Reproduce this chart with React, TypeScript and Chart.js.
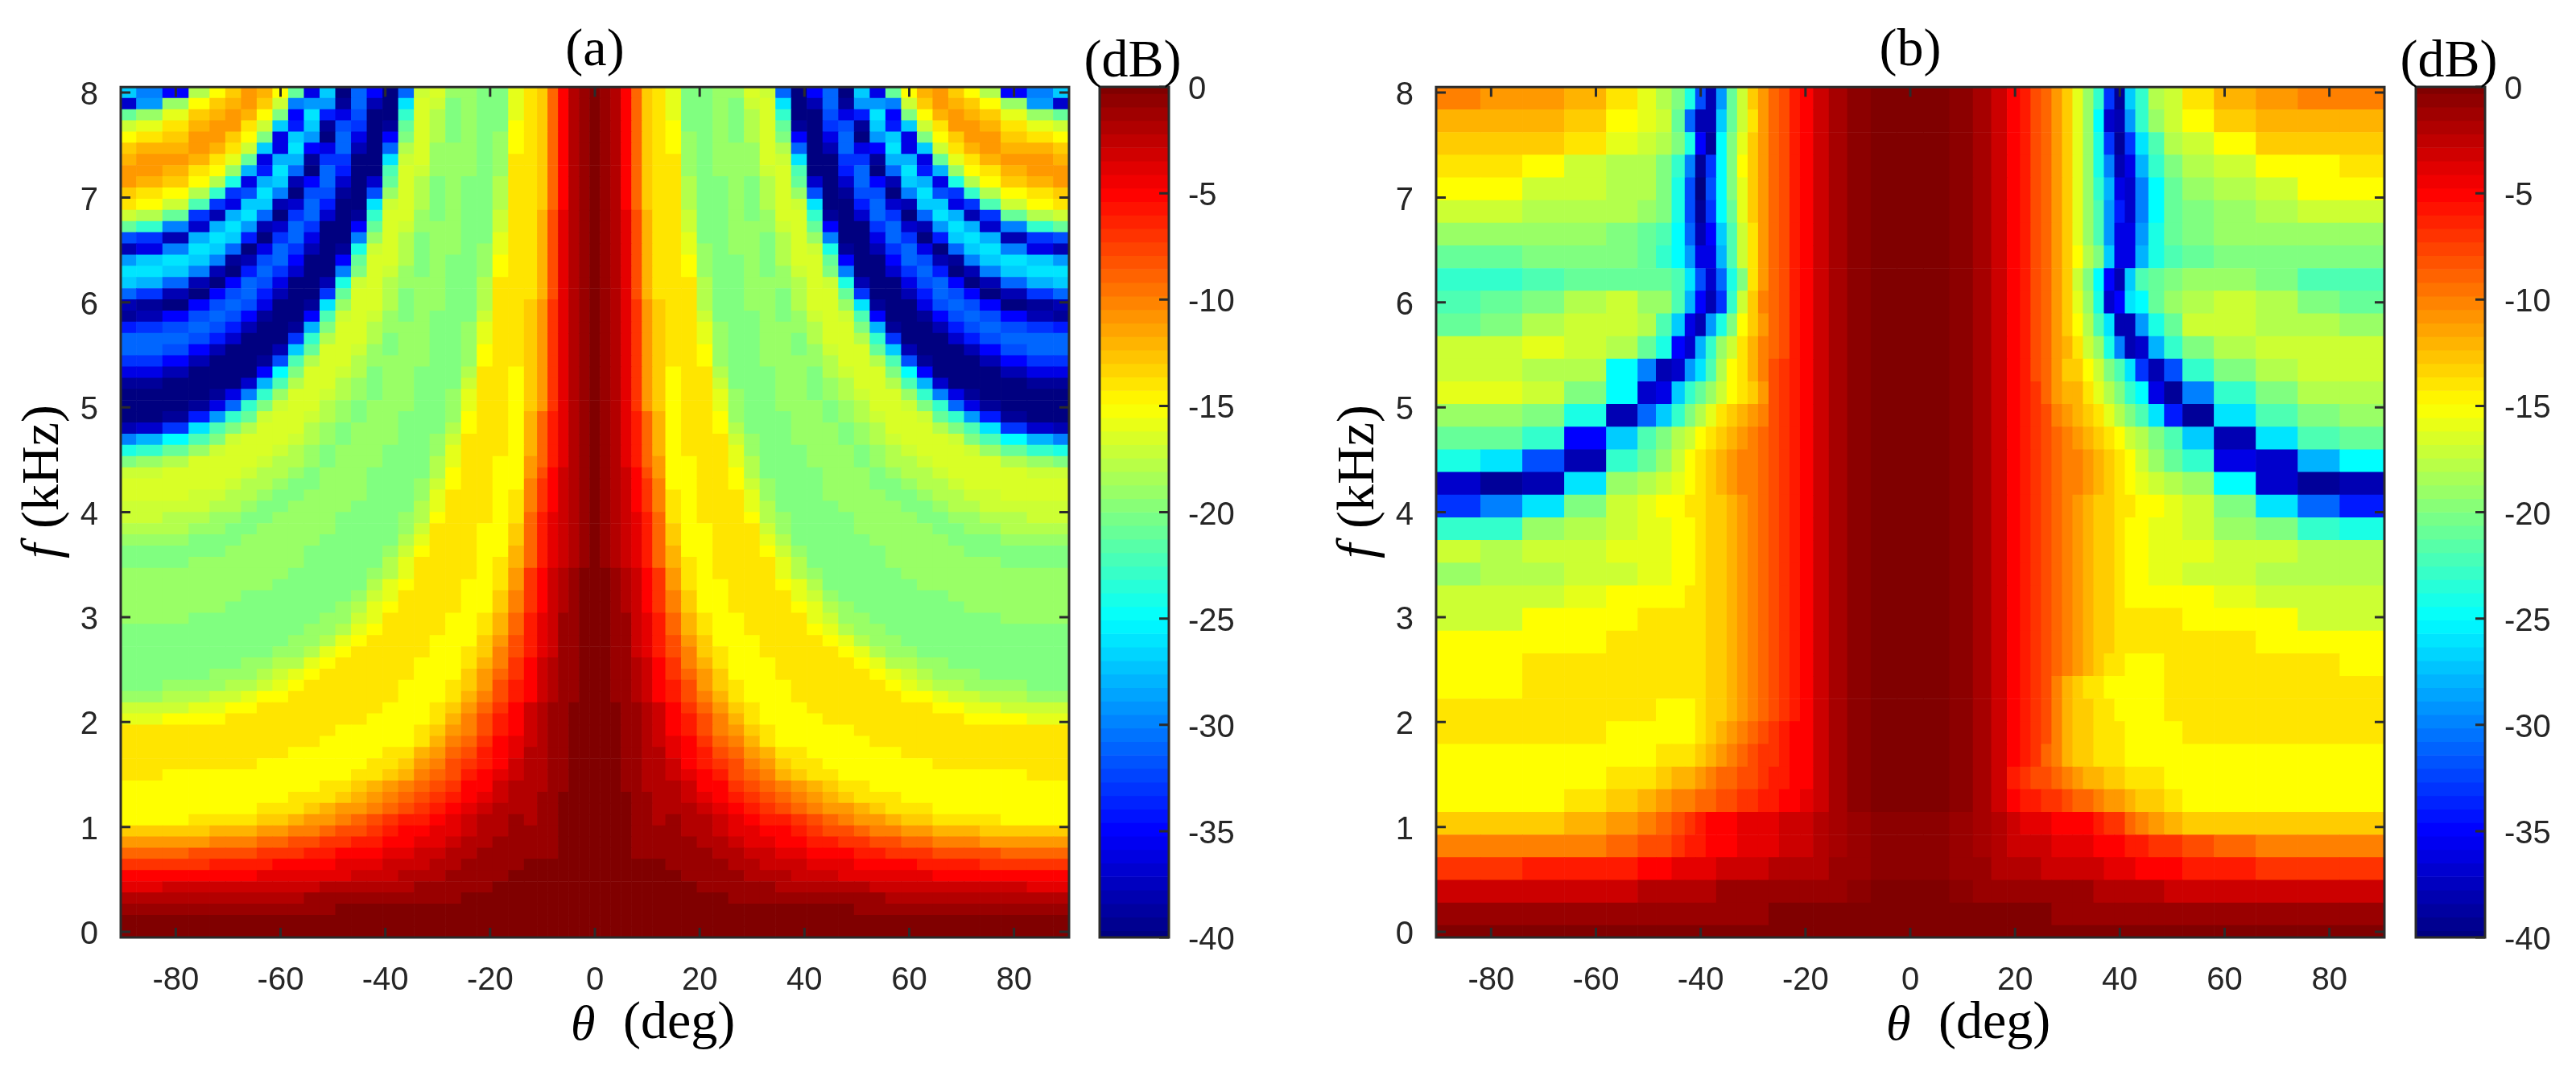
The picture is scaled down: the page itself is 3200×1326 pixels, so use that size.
import { useEffect, useRef } from "react"
import { Chart, registerables } from "chart.js"

Chart.register(...registerables)

// panel (a) is mirror symmetric in the picture, so only 0..90 deg is kept
const thetaHalfA = [0,2,4,6,8,10,12,15,18,21,24,27,30,33,36,39,42,45,48,51,54,57,60,63,66,69,72,75,80,85,90]

// dB, first row is 8 kHz, last row is 0 kHz
const rowsHalfA = [
[0,-1,-2,-5,-9,-13,-14,-16,-20,-20,-19,-19,-16.5,-17,-31,-40,-35,-31,-40,-27,-36,-21,-15,-12,-11,-13,-15,-18,-35,-30,-27],
[0,-1,-2,-5,-9,-13,-14,-16,-20,-20,-19,-20,-17,-16.5,-26,-40,-38,-31,-39,-29,-29,-30,-17,-13,-11,-12,-13,-15,-19,-29,-37],
[0,-1,-2,-5,-9,-13,-14,-16,-20,-20,-19,-20,-18,-16.5,-23,-40,-40,-32,-36,-34,-26,-35,-20,-15,-12,-11,-12,-13,-16,-19,-21],
[0,-1,-2,-5,-9,-13,-14,-15,-20,-20,-19,-20,-18,-16.5,-21,-39,-40,-33,-32,-39,-27,-34,-27,-17,-14,-11,-11,-12,-14,-16,-17],
[0,-1,-2,-5,-9,-13,-14,-15,-19,-20,-19,-20,-18,-16.5,-20,-35,-40,-36,-31,-40,-29,-27,-36,-20,-15,-13,-11,-11,-13,-14,-15],
[0,-1,-2,-5,-9,-13,-14,-15,-19,-20,-19,-19,-19,-16.5,-18,-31,-40,-38,-31,-36,-35,-26,-36,-27,-17,-14,-12,-11,-12,-12,-13],
[0,-1,-2,-5,-9,-13,-14,-14,-19,-20,-19,-19,-19,-16.5,-17,-26,-40,-40,-33,-33,-39,-28,-28,-36,-21,-16,-14,-12,-11,-11,-12],
[0,-1,-2,-5,-9,-13,-14,-14,-19,-20,-19,-19,-19,-17,-16.5,-22,-40,-40,-34,-31,-40,-31,-26,-34,-28,-19,-15,-14,-12,-11,-11],
[0,-1,-2,-5,-9,-13,-14,-14,-18,-20,-20,-19,-20,-18,-16.5,-21,-37,-40,-37,-31,-35,-38,-27,-28,-36,-24,-18,-15,-13,-12,-11],
[0,-1,-2,-5,-9,-13,-14,-14,-18,-20,-20,-19,-20,-18,-16.5,-19,-32,-40,-39,-32,-32,-40,-30,-26,-32,-33,-23,-18,-15,-14,-13],
[0,-1,-2,-5,-9,-13,-14,-14,-18,-20,-20,-19,-20,-18,-16.5,-17,-26,-40,-40,-34,-31,-37,-38,-27,-27,-36,-33,-22,-17,-15,-14],
[0,-1,-2,-4,-8,-12,-14,-14,-17,-20,-20,-19,-20,-19,-16.5,-16.5,-23,-39,-40,-37,-31,-33,-40,-31,-26,-28,-38,-33,-21,-18,-17],
[0,-1,-2,-4,-8,-12,-14,-14,-17,-20,-20,-19,-19,-19,-17,-16.5,-21,-35,-40,-40,-33,-31,-37,-38,-29,-26,-28,-37,-30,-23,-21],
[0,-1,-2,-4,-8,-12,-14,-14,-16,-20,-20,-19,-19,-20,-18,-16.5,-19,-30,-40,-40,-36,-31,-33,-40,-34,-27,-26,-28,-38,-33,-32],
[0,-1,-2,-4,-8,-12,-14,-14,-16,-19,-20,-19,-19,-20,-18,-16.5,-17,-24,-39,-40,-38,-33,-31,-36,-40,-31,-27,-26,-30,-36,-38],
[0,-1,-2,-4,-8,-12,-14,-14,-15,-19,-20,-20,-19,-20,-18,-16.5,-16.5,-21,-35,-40,-40,-35,-31,-32,-38,-39,-30,-27,-26,-27,-29],
[0,-1,-2,-4,-8,-12,-14,-14,-15,-19,-20,-20,-19,-20,-19,-17,-16.5,-20,-30,-40,-40,-37,-33,-31,-34,-40,-38,-30,-27,-26,-26],
[0,-1,-2,-4,-8,-12,-14,-14,-14,-18,-20,-20,-19,-19,-19,-18,-16.5,-17,-24,-38,-40,-40,-36,-32,-31,-35,-40,-38,-31,-28,-27],
[0,-1,-2,-4,-8,-12,-14,-14,-14,-18,-20,-20,-19,-19,-20,-18,-16.5,-16.5,-21,-33,-40,-40,-38,-34,-31,-32,-35,-40,-38,-33,-31],
[0,-1,-2,-4,-7,-11,-13,-14,-14,-18,-20,-20,-19,-19,-20,-18,-16.5,-16.5,-19,-26,-39,-40,-40,-36,-32,-31,-32,-35,-40,-39,-38],
[0,-1,-2,-4,-7,-11,-13,-14,-14,-17,-20,-20,-20,-19,-20,-19,-17,-16.5,-17,-22,-35,-40,-40,-39,-35,-32,-31,-32,-35,-38,-39],
[0,-1,-2,-4,-7,-11,-13,-14,-14,-16,-19,-20,-20,-19,-19,-19,-18,-16.5,-16.5,-20,-28,-39,-40,-40,-38,-34,-32,-31,-32,-33,-34],
[0,-1,-2,-4,-7,-11,-13,-14,-14,-16,-19,-20,-20,-19,-19,-20,-18,-16.5,-16.5,-18,-23,-33,-40,-40,-40,-37,-34,-32,-31,-31,-31],
[0,-1,-2,-4,-7,-11,-13,-14,-14,-15,-19,-20,-20,-19,-19,-20,-19,-17,-16.5,-16.5,-21,-27,-38,-40,-40,-40,-38,-35,-32,-31,-31],
[0,-1,-2,-4,-7,-11,-13,-14,-14,-15,-19,-20,-20,-19,-19,-19,-19,-18,-16.5,-16.5,-18,-22,-32,-39,-40,-40,-40,-38,-35,-33,-33],
[0,-1,-2,-4,-7,-11,-13,-15,-14,-14,-18,-20,-20,-20,-19,-19,-20,-18,-17,-16.5,-16.5,-20,-25,-35,-40,-40,-40,-40,-38,-36,-36],
[0,-1,-2,-4,-7,-11,-13,-15,-14,-14,-17,-20,-20,-20,-19,-19,-20,-19,-18,-16.5,-16.5,-18,-22,-28,-37,-40,-40,-40,-40,-39,-39],
[0,-1,-2,-4,-7,-11,-13,-15,-14,-14,-16,-19,-20,-20,-19,-19,-20,-19,-18,-17,-16.5,-16.5,-19,-23,-30,-36,-39,-40,-40,-40,-40],
[0,-1,-2,-4,-7,-11,-13,-15,-14,-14,-16,-19,-20,-20,-19,-19,-19,-20,-19,-18,-16.5,-16.5,-17,-20,-23,-31,-36,-39,-40,-40,-40],
[0,-1,-2,-4,-6,-9,-12,-15,-14,-14,-15,-19,-20,-20,-20,-19,-19,-20,-19,-18,-17,-16.5,-16.5,-17,-21,-23,-29,-34,-39,-40,-40],
[0,-1,-2,-4,-6,-9,-12,-15,-14,-14,-15,-18,-20,-20,-20,-19,-19,-19,-20,-19,-18,-16.5,-16.5,-16.5,-18,-20,-22,-26,-33,-37,-38],
[0,-1,-2,-4,-6,-9,-12,-15,-14,-14,-14,-17,-19,-20,-20,-19,-19,-19,-20,-19,-18,-17,-16.5,-16.5,-16.5,-17,-20,-22,-25,-28,-30],
[0,-1,-2,-4,-6,-9,-12,-15,-14,-14,-14,-16,-19,-20,-20,-20,-19,-19,-19,-20,-19,-18,-17,-16.5,-16.5,-16.5,-17,-19,-21,-23,-24],
[0,-1,-2,-4,-6,-9,-11,-15,-15,-14,-14,-16,-18,-20,-20,-20,-19,-19,-19,-20,-19,-18,-18,-17,-16.5,-16.5,-16.5,-16.5,-18,-19,-20],
[0,-1,-2,-3,-5,-8,-11,-15,-15,-14,-14,-15,-18,-20,-20,-20,-20,-19,-19,-19,-20,-19,-18,-18,-17,-16.5,-16.5,-16.5,-16.5,-17,-17],
[0,-1,-2,-3,-5,-7,-10,-15,-15,-14,-14,-15,-17,-19,-20,-20,-20,-19,-19,-19,-20,-20,-19,-18,-18,-17,-16.5,-16.5,-16.5,-16.5,-16.5],
[0,-1,-2,-3,-5,-7,-10,-14,-15,-14,-14,-14,-16,-19,-20,-20,-20,-19,-19,-19,-19,-20,-20,-19,-18,-18,-17,-17,-16.5,-16.5,-16.5],
[0,-1,-2,-3,-5,-7,-10,-14,-15,-14,-14,-14,-16,-18,-20,-20,-20,-20,-19,-19,-19,-19,-20,-20,-19,-18,-18,-17,-17,-17,-17],
[0,-1,-2,-3,-4,-6,-9,-14,-15,-14,-14,-14,-15,-18,-19,-20,-20,-20,-20,-19,-19,-19,-19,-20,-20,-19,-19,-18,-18,-17,-17],
[0,-1,-2,-3,-4,-6,-9,-13,-15,-15,-14,-14,-14,-17,-19,-20,-20,-20,-20,-19,-19,-19,-19,-19,-20,-20,-19,-19,-18,-18,-18],
[0,-1,-2,-3,-4,-6,-9,-13,-15,-15,-14,-14,-14,-16,-18,-20,-20,-20,-20,-20,-19,-19,-19,-19,-19,-20,-20,-20,-19,-19,-19],
[0,-1,-2,-3,-4,-6,-9,-12,-15,-15,-14,-14,-14,-15,-17,-19,-20,-20,-20,-20,-20,-19,-19,-19,-19,-19,-20,-20,-20,-20,-20],
[0,-1,-2,-3,-4,-6,-9,-12,-14,-15,-14,-14,-14,-14,-16,-18,-20,-20,-20,-20,-20,-19,-19,-19,-19,-19,-19,-19,-20,-20,-20],
[0,0,-1,-2,-3,-5,-7,-11,-14,-15,-14,-14,-14,-14,-16,-18,-19,-20,-20,-20,-20,-20,-19,-19,-19,-19,-19,-19,-19,-19,-19],
[0,0,-1,-2,-3,-5,-7,-11,-14,-15,-15,-14,-14,-14,-15,-16,-18,-20,-20,-20,-20,-20,-20,-19,-19,-19,-19,-19,-19,-19,-19],
[0,0,-1,-2,-3,-5,-7,-10,-13,-15,-15,-14,-14,-14,-14,-16,-17,-19,-20,-20,-20,-20,-20,-20,-20,-19,-19,-19,-19,-19,-19],
[0,0,-1,-2,-3,-5,-7,-10,-13,-15,-15,-14,-14,-14,-14,-15,-16,-18,-19,-20,-20,-20,-20,-20,-20,-20,-19,-19,-19,-19,-19],
[0,0,-1,-1,-3,-4,-6,-9,-12,-14,-15,-15,-14,-14,-14,-14,-16,-17,-19,-19,-20,-20,-20,-20,-20,-20,-20,-20,-19,-19,-19],
[0,0,-1,-1,-3,-4,-6,-9,-12,-14,-15,-15,-14,-14,-14,-14,-15,-16,-18,-19,-19,-20,-20,-20,-20,-20,-20,-20,-20,-20,-20],
[0,0,-1,-1,-3,-4,-6,-8,-11,-13,-15,-15,-15,-14,-14,-14,-14,-15,-16,-18,-19,-19,-20,-20,-20,-20,-20,-20,-20,-20,-20],
[0,0,-1,-1,-3,-4,-6,-8,-10,-13,-14,-15,-15,-14,-14,-14,-14,-14,-15,-16,-18,-19,-19,-20,-20,-20,-20,-20,-20,-20,-20],
[0,0,-1,-1,-2,-3,-5,-7,-10,-12,-14,-15,-15,-15,-14,-14,-14,-14,-14,-15,-16,-18,-18,-19,-19,-20,-20,-20,-20,-20,-20],
[0,0,-1,-1,-2,-3,-5,-7,-9,-11,-13,-15,-15,-15,-14,-14,-14,-14,-14,-14,-15,-16,-17,-18,-19,-19,-19,-20,-20,-20,-20],
[0,0,-1,-1,-2,-3,-5,-6,-8,-11,-13,-14,-15,-15,-15,-14,-14,-14,-14,-14,-14,-15,-16,-17,-18,-18,-19,-19,-19,-20,-20],
[0,0,-1,-1,-2,-3,-5,-6,-8,-10,-12,-14,-15,-15,-15,-14,-14,-14,-14,-14,-14,-14,-15,-15,-16,-17,-17,-18,-18,-19,-19],
[0,0,0,-1,-1,-2,-3,-5,-7,-9,-11,-13,-14,-15,-15,-15,-14,-14,-14,-14,-14,-14,-14,-14,-15,-15,-16,-16,-17,-17,-17],
[0,0,0,-1,-1,-2,-3,-5,-6,-8,-10,-12,-14,-15,-15,-15,-15,-14,-14,-14,-14,-14,-14,-14,-14,-14,-15,-15,-15,-16,-16],
[0,0,0,-1,-1,-2,-3,-5,-6,-8,-10,-11,-13,-14,-15,-15,-15,-15,-15,-14,-14,-14,-14,-14,-14,-14,-14,-14,-14,-14,-14],
[0,0,0,-1,-1,-2,-3,-4,-5,-7,-9,-10,-12,-14,-15,-15,-15,-15,-15,-15,-14,-14,-14,-14,-14,-14,-14,-14,-14,-14,-14],
[0,0,0,-1,-1,-2,-2,-4,-5,-6,-8,-9,-11,-12,-14,-14,-15,-15,-15,-15,-15,-15,-14,-14,-14,-14,-14,-14,-14,-14,-14],
[0,0,0,-1,-1,-2,-2,-3,-5,-6,-7,-8,-10,-11,-13,-14,-14,-15,-15,-15,-15,-15,-15,-15,-14,-14,-14,-14,-14,-14,-14],
[0,0,0,-1,-1,-2,-2,-3,-4,-5,-6,-8,-9,-10,-12,-13,-14,-14,-15,-15,-15,-15,-15,-15,-15,-15,-15,-15,-15,-14,-14],
[0,0,0,-1,-1,-2,-2,-2,-3,-5,-5,-7,-8,-9,-10,-11,-12,-13,-14,-14,-15,-15,-15,-15,-15,-15,-15,-15,-15,-15,-15],
[0,0,0,0,-1,-1,-2,-2,-3,-4,-5,-6,-7,-8,-9,-10,-11,-12,-13,-14,-14,-14,-15,-15,-15,-15,-15,-15,-15,-15,-15],
[0,0,0,0,-1,-1,-2,-2,-2,-3,-4,-5,-6,-7,-8,-9,-10,-11,-11,-12,-13,-14,-14,-14,-15,-15,-15,-15,-15,-15,-15],
[0,0,0,0,-1,-1,-2,-1,-2,-2,-3,-4,-5,-6,-6,-7,-8,-9,-10,-11,-11,-12,-13,-13,-14,-14,-14,-14,-15,-15,-15],
[0,0,0,0,-1,-1,-1,-1,-2,-2,-3,-4,-4,-5,-5,-6,-7,-8,-8,-9,-10,-10,-11,-11,-12,-12,-12,-13,-13,-13,-13],
[0,0,0,0,-1,-1,-1,-1,-1,-2,-2,-3,-4,-4,-5,-5,-6,-6,-7,-7,-8,-8,-9,-9,-10,-10,-10,-11,-11,-11,-11],
[0,0,0,0,-1,-1,-1,-1,-1,-1,-2,-2,-3,-3,-4,-4,-5,-5,-5,-6,-6,-7,-7,-7,-8,-8,-8,-8,-9,-9,-9],
[0,0,0,0,0,0,0,-1,-1,-1,-1,-2,-2,-3,-3,-3,-4,-4,-4,-5,-5,-5,-5,-6,-6,-6,-6,-7,-7,-7,-7],
[0,0,0,0,0,0,0,0,-1,-1,-1,-1,-2,-2,-2,-3,-3,-3,-4,-4,-4,-4,-4,-4,-5,-5,-5,-5,-5,-5,-5],
[0,0,0,0,0,0,0,0,0,-1,-1,-1,-1,-1,-2,-2,-2,-2,-2,-2,-3,-3,-3,-3,-3,-3,-3,-3,-3,-4,-4],
[0,0,0,0,0,0,0,0,0,0,0,-1,-1,-1,-1,-1,-1,-1,-1,-1,-1,-2,-2,-2,-2,-2,-2,-2,-2,-2,-2],
[0,0,0,0,0,0,0,0,0,0,0,0,0,0,0,0,0,0,0,-1,-1,-1,-1,-1,-1,-1,-1,-1,-1,-1,-1],
[0,0,0,0,0,0,0,0,0,0,0,0,0,0,0,0,0,0,0,0,0,0,0,0,0,0,0,0,0,0,0],
[0,0,0,0,0,0,0,0,0,0,0,0,0,0,0,0,0,0,0,0,0,0,0,0,0,0,0,0,0,0,0],
]

const thetaB = [-86,-78,-70,-62,-54,-50,-47,-44,-42,-40,-38,-36,-34,-32,-30,-28,-26,-24,-22,-20,-17,-14,-10,-5,0,5,10,14,17,20,22,24,26,28,30,32,34,36,38,40,42,44,47,50,54,62,70,78,86]

// dB, first row is the top block of the picture
const rowsB = [
[-10,-11,-11,-12,-14,-16,-18,-20,-24,-32,-38,-29,-21,-17,-13,-11,-9,-8,-6,-5,-3,-1.5,-0.5,0,0,0,-0.5,-1.5,-3,-5,-6,-8,-9,-11,-13,-16,-19,-23,-33,-39,-27,-23,-18,-17,-14,-12,-11,-10,-10],
[-12,-12,-12,-13,-15,-16,-17,-21,-31,-38,-38,-27,-21,-17,-14,-11,-9,-8,-6,-5,-3,-1.5,-0.5,0,0,0,-0.5,-1.5,-3,-5,-6,-8,-9,-11,-13,-16,-19,-25,-37,-38,-29,-23,-19,-17,-15,-13,-12,-12,-12],
[-13,-13,-13,-14,-16,-17,-18,-20,-24,-35,-39,-25,-20,-16,-13,-11,-9,-8,-6,-5,-3,-1.5,-0.5,0,0,0,-0.5,-1.5,-3,-5,-6,-8,-9,-11,-13,-16,-19,-24,-33,-39,-33,-26,-22,-18,-17,-15,-13,-13,-13],
[-14,-14,-15,-17,-18,-18,-20,-23,-30,-39,-33,-25,-20,-15,-13,-11,-9,-8,-6,-5,-3,-1.5,-0.5,0,0,0,-0.5,-1.5,-3,-5,-6,-8,-9,-11,-13,-16,-19,-24,-30,-38,-36,-28,-23,-20,-18,-17,-15,-15,-14],
[-15,-15,-17,-17,-18,-18,-20,-24,-32,-40,-32,-25,-20,-16,-13,-11,-9,-8,-6,-5,-3,-1.5,-0.5,0,0,0,-0.5,-1.5,-3,-5,-6,-8,-9,-11,-13,-16,-19,-23,-28,-36,-37,-30,-25,-21,-19,-18,-17,-15,-15],
[-17,-17,-18,-18,-18,-19,-20,-24,-32,-39,-33,-25,-21,-16,-13,-11,-9,-8,-6,-5,-3,-1.5,-0.5,0,0,0,-0.5,-1.5,-3,-5,-6,-8,-9,-11,-13,-16,-19,-22,-29,-34,-37,-30,-25,-21,-20,-19,-18,-17,-17],
[-19,-19,-19,-19,-20,-21,-22,-25,-31,-38,-35,-27,-22,-17,-14,-11,-9,-8,-6,-5,-3,-1.5,-0.5,0,0,0,-0.5,-1.5,-3,-5,-6,-8,-9,-11,-13,-16,-19,-22,-29,-36,-36,-29,-24,-21,-20,-19,-19,-19,-19],
[-21,-21,-20,-20,-20,-21,-23,-25,-29,-36,-36,-28,-22,-17,-14,-11,-9,-8,-6,-5,-3,-1.5,-0.5,0,0,0,-0.5,-1.5,-3,-5,-6,-8,-9,-11,-13,-15,-18,-20,-27,-36,-36,-28,-24,-22,-21,-20,-20,-20,-20],
[-23,-23,-22,-21,-21,-21,-21,-22,-26,-32,-37,-31,-24,-20,-14,-11,-9,-8,-6,-5,-3,-1.5,-0.5,0,0,0,-0.5,-1.5,-3,-5,-6,-8,-9,-11,-13,-17,-20,-25,-35,-38,-27,-22,-21,-20,-19,-19,-20,-22,-22],
[-22,-21,-20,-18,-17,-19,-19,-22,-28,-35,-38,-33,-23,-17,-13,-10,-9,-8,-6,-5,-3,-1.5,-0.5,0,0,0,-0.5,-1.5,-3,-5,-6,-8,-9,-11,-13,-16,-19,-24,-37,-35,-26,-25,-21,-19,-18,-17,-18,-20,-21],
[-21,-20,-18,-17,-17,-18,-22,-27,-36,-38,-29,-24,-20,-15,-13,-11,-9,-8,-6,-5,-3,-1.5,-0.5,0,0,0,-0.5,-1.5,-3,-5,-6,-8,-9,-11,-13,-15,-18,-22,-26,-38,-38,-29,-24,-21,-17,-17,-18,-18,-19],
[-17,-17,-16,-17,-18,-21,-24,-35,-37,-28,-23,-19,-17,-14,-12,-10,-9,-8,-6,-5,-3,-1.5,-0.5,0,0,0,-0.5,-1.5,-3,-5,-6,-8,-9,-11,-12,-14,-17,-19,-24,-30,-38,-37,-28,-23,-20,-18,-17,-17,-17],
[-17,-17,-18,-18,-25,-30,-38,-37,-29,-26,-22,-18,-15,-14,-12,-10,-8,-7,-6,-5,-3,-1.5,-0.5,0,0,0,-0.5,-1.5,-3,-5,-6,-8,-9,-11,-13,-13,-15,-17,-20,-22,-26,-33,-38,-32,-23,-20,-18,-17,-17],
[-16,-16,-17,-20,-25,-37,-36,-27,-23,-21,-19,-17,-15,-14,-13,-11,-8,-7,-6,-5,-3,-1.5,-0.5,0,0,0,-0.5,-1.5,-3,-5,-6,-7,-9,-11,-12,-12,-14,-16,-18,-20,-23,-25,-36,-39,-30,-23,-20,-18,-18],
[-19,-19,-20,-24,-38,-31,-27,-23,-20,-18,-16,-14,-13,-12,-11,-10,-8,-7,-6,-5,-3,-1.5,-0.5,0,0,0,-0.5,-1.5,-3,-5,-6,-7,-8,-10,-11,-12,-13,-14,-16,-18,-20,-22,-26,-34,-39,-26,-22,-20,-19],
[-21,-21,-23,-35,-27,-22,-20,-18,-17,-15,-14,-13,-12,-11,-10,-9,-8,-7,-6,-5,-3,-1.5,-0.5,0,0,0,-0.5,-1.5,-3,-5,-6,-7,-8,-9,-10,-11,-12,-13,-14,-15,-17,-18,-20,-22,-27,-38,-26,-22,-21],
[-24,-26,-32,-38,-23,-21,-19,-17,-15,-14,-13,-12,-11,-10,-10,-9,-8,-7,-6,-5,-3,-1.5,-0.5,0,0,0,-0.5,-1.5,-3,-5,-6,-7,-8,-9,-10,-10,-11,-12,-13,-14,-15,-17,-19,-21,-23,-36,-37,-28,-25],
[-37,-39,-38,-26,-19,-18,-17,-16,-15,-14,-13,-12,-11,-10,-10,-9,-8,-7,-6,-5,-3,-1.5,-0.5,0,0,0,-0.5,-1.5,-3,-5,-6,-7,-8,-9,-10,-10,-11,-12,-13,-14,-15,-16,-17,-18,-19,-25,-37,-39,-38],
[-33,-30,-26,-20,-17,-16,-15,-15,-14,-14,-13,-13,-12,-11,-10,-9,-8,-7,-6,-5,-3,-1.5,-0.5,0,0,0,-0.5,-1.5,-3,-5,-6,-7,-8,-9,-10,-11,-12,-13,-13,-14,-14,-15,-15,-16,-17,-20,-26,-31,-34],
[-23,-23,-19,-18,-17,-16,-16,-15,-15,-14,-13,-13,-12,-11,-10,-9,-8,-7,-6,-5,-3,-1.5,-0.5,0,0,0,-0.5,-1.5,-3,-5,-6,-7,-8,-9,-10,-11,-12,-13,-13,-14,-15,-15,-16,-16,-17,-19,-20,-23,-24],
[-17,-18,-17,-17,-16,-16,-16,-15,-15,-14,-13,-13,-12,-11,-10,-9,-8,-7,-6,-5,-3,-1.5,-0.5,0,0,0,-0.5,-1.5,-3,-5,-6,-7,-8,-9,-10,-11,-12,-13,-13,-14,-15,-15,-16,-16,-16,-17,-17,-18,-18],
[-19,-18,-18,-17,-17,-16,-16,-15,-15,-14,-13,-13,-12,-11,-10,-9,-8,-7,-6,-5,-3,-1.5,-0.5,0,0,0,-0.5,-1.5,-3,-5,-6,-7,-8,-9,-10,-11,-12,-13,-13,-14,-15,-15,-16,-16,-17,-17,-18,-18,-18],
[-17,-17,-17,-16,-15,-15,-15,-15,-14,-14,-13,-13,-12,-11,-10,-9,-8,-7,-6,-5,-3,-1.5,-0.5,0,0,0,-0.5,-1.5,-3,-5,-6,-7,-8,-9,-10,-11,-12,-13,-13,-14,-15,-15,-15,-15,-15,-16,-17,-17,-17],
[-17,-17,-15,-15,-15,-14,-14,-14,-14,-14,-13,-13,-12,-11,-10,-9,-8,-7,-6,-5,-3,-1.5,-0.5,0,0,0,-0.5,-1.5,-3,-5,-6,-7,-8,-9,-10,-11,-12,-13,-13,-14,-14,-14,-14,-14,-15,-15,-15,-17,-17],
[-15,-15,-15,-15,-14,-14,-14,-14,-14,-14,-13,-13,-12,-11,-10,-9,-8,-7,-6,-5,-3,-1.5,-0.5,0,0,0,-0.5,-1.5,-3,-5,-6,-7,-8,-9,-10,-11,-12,-13,-13,-14,-14,-14,-14,-14,-14,-14,-15,-15,-15],
[-15,-15,-14,-14,-14,-14,-14,-14,-14,-14,-13,-13,-12,-11,-10,-9,-8,-7,-6,-5,-3,-1.5,-0.5,0,0,0,-0.5,-1.5,-3,-5,-6,-7,-8,-9,-10,-11,-12,-13,-14,-14,-15,-15,-15,-14,-14,-14,-14,-14,-15],
[-15,-15,-14,-14,-14,-14,-14,-14,-14,-14,-13,-13,-12,-11,-10,-9,-8,-7,-6,-5,-3,-1.5,-0.5,0,0,0,-0.5,-1.5,-3,-5,-6,-7,-8,-10,-12,-13,-14,-14,-15,-15,-15,-15,-15,-14,-14,-14,-14,-14,-14],
[-14,-14,-14,-14,-14,-14,-15,-15,-15,-14,-13,-13,-12,-11,-10,-9,-8,-7,-6,-5,-3,-1.5,-0.5,0,0,0,-0.5,-1.5,-3,-5,-6,-7,-8,-10,-12,-13,-13,-14,-14,-15,-15,-15,-15,-14,-14,-14,-14,-14,-14],
[-14,-14,-14,-14,-15,-15,-15,-15,-15,-14,-13,-12,-11,-10,-9,-8,-7,-6,-5,-5,-3,-1.5,-0.5,0,0,0,-0.5,-1.5,-3,-5,-6,-7,-8,-10,-12,-13,-13,-14,-14,-14,-15,-15,-15,-15,-14,-14,-14,-14,-14],
[-15,-15,-15,-15,-15,-15,-14,-14,-14,-13,-12,-11,-10,-9,-8,-7,-7,-6,-5,-5,-3,-1.5,-0.5,0,0,0,-0.5,-1.5,-3,-5,-6,-7,-9,-10,-12,-13,-13,-14,-14,-14,-15,-15,-15,-15,-15,-15,-15,-15,-15],
[-15,-15,-15,-15,-14,-14,-13,-12,-12,-11,-10,-9,-9,-8,-8,-7,-6,-6,-5,-5,-3,-1.5,-0.5,0,0,0,-0.5,-1.5,-3,-6,-7,-8,-8,-9,-10,-11,-12,-12,-13,-13,-14,-14,-14,-15,-15,-15,-15,-15,-15],
[-15,-15,-15,-14,-13,-12,-11,-10,-10,-9,-9,-8,-8,-7,-7,-6,-6,-5,-5,-4,-3,-1.5,-0.5,0,0,0,-0.5,-1.5,-3,-5,-6,-6,-7,-7,-8,-9,-9,-10,-11,-11,-12,-13,-13,-14,-15,-15,-15,-15,-15],
[-13,-13,-13,-12,-11,-10,-9,-8,-7,-6,-5,-5,-5,-4,-4,-4,-4,-3,-3,-3,-2,-1.5,-1,-0.5,-0.5,-0.5,-1,-1.5,-2,-3,-4,-4,-4,-5,-5,-5,-5,-6,-7,-7,-9,-10,-11,-12,-13,-13,-13,-13,-13],
[-10,-10,-10,-10,-9,-8,-8,-7,-6,-6,-5,-5,-5,-4,-4,-4,-4,-3,-3,-3,-2,-1.5,-1,-0.5,-0.5,-0.5,-1,-1.5,-2,-3,-3,-3,-3,-4,-4,-4,-4,-5,-5,-5,-6,-6,-7,-7,-8,-9,-10,-10,-10],
[-7,-7,-6,-6,-6,-5,-5,-4,-4,-4,-4,-3,-3,-3,-3,-3,-2,-2,-2,-2,-2,-1,-1,-0.5,-0.5,-0.5,-1,-1,-2,-2,-2,-2,-3,-3,-3,-3,-3,-3,-4,-4,-4,-5,-5,-5,-6,-6,-7,-7,-7],
[-3,-3,-3,-3,-3,-2,-2,-2,-2,-2,-2,-1,-1,-1,-1,-1,-1,-1,-1,-1,-1,-1,-0.5,0,0,0,-0.5,-1,-1,-1,-1,-1,-1,-1,-1,-1,-1,-2,-2,-2,-2,-2,-2,-3,-3,-3,-3,-3,-3],
[-1,-1,-1,-1,-1,-1,-1,-1,-1,-1,-1,-1,-1,-1,-1,-1,0,0,0,0,0,0,0,0,0,0,0,0,0,0,0,0,0,-1,-1,-1,-1,-1,-1,-1,-1,-1,-1,-1,-1,-1,-1,-1,-1],
[0,0,0,0,0,0,0,0,0,0,0,0,0,0,0,0,0,0,0,0,0,0,0,0,0,0,0,0,0,0,0,0,0,0,0,0,0,0,0,0,0,0,0,0,0,0,0,0,0],
]

const thetaTicks = [-80, -60, -40, -20, 0, 20, 40, 60, 80]
const freqTicks = [0, 1, 2, 3, 4, 5, 6, 7, 8]
const dbTicks = [0, -5, -10, -15, -20, -25, -30, -35, -40]

const thetaA = [...thetaHalfA.slice(1).map((t) => -t).reverse(), ...thetaHalfA]
const rowsA = rowsHalfA.map((row) => [...row.slice(1).reverse(), ...row])
const freqA = rowsA.map((_, k) => 8 - (k * 8) / 75)
const freqB = rowsB.map((_, k) => 7.945 - k * 0.216)
const colorLevels = Array.from({ length: 64 }, (_, i) => -40 + (i * 40) / 63)

const serif = "'Liberation Serif'"
const sans = "'Liberation Sans'"
const ink = "#262626"

function jet(db: number) {
  const c = ((db + 40) / 40) * 4
  const clip = (v: number) => Math.round(255 * Math.max(0, Math.min(1, v)))
  const r = clip(Math.min(c - 1.5, 4.5 - c))
  const g = clip(Math.min(c - 0.5, 3.5 - c))
  const b = clip(Math.min(c + 0.5, 2.5 - c))
  return `rgb(${r},${g},${b})`
}

function setTicks(values: number[]) {
  return (scale: any) => {
    scale.ticks = values.map((value) => ({ value }))
  }
}

// box around the plot and the short ticks pointing inwards
const frame = (allSides: boolean) => ({
  id: "frame",
  afterDatasetsDraw(chart: any) {
    const { ctx, chartArea: a, scales } = chart
    ctx.save()
    ctx.strokeStyle = "#2b2b2b"
    ctx.lineWidth = 3
    ctx.strokeRect(a.left, a.top, a.right - a.left, a.bottom - a.top)
    ctx.beginPath()
    for (const t of scales.y.ticks) {
      const y = scales.y.getPixelForValue(t.value)
      ctx.moveTo(a.right, y)
      ctx.lineTo(a.right - 12, y)
      if (allSides) {
        ctx.moveTo(a.left, y)
        ctx.lineTo(a.left + 12, y)
      }
    }
    if (allSides) {
      for (const t of scales.x.ticks) {
        const x = scales.x.getPixelForValue(t.value)
        ctx.moveTo(x, a.top)
        ctx.lineTo(x, a.top + 12)
        ctx.moveTo(x, a.bottom)
        ctx.lineTo(x, a.bottom - 12)
      }
    }
    ctx.stroke()
    ctx.restore()
  },
})

// axis titles have an italic symbol next to upright text, so they are drawn by hand
const axisTitles = {
  id: "axisTitles",
  afterDraw(chart: any) {
    const { ctx, chartArea: a } = chart
    const mid = (a.left + a.right) / 2
    ctx.save()
    ctx.fillStyle = "#000"
    ctx.textBaseline = "alphabetic"
    ctx.textAlign = "left"
    ctx.font = `italic 62px ${serif}`
    ctx.fillText("θ", mid - 30, 1292)
    ctx.font = `66px ${serif}`
    ctx.fillText("(deg)", mid + 35, 1290)
    ctx.translate(72, 694)
    ctx.rotate(-Math.PI / 2)
    ctx.font = `italic 66px ${serif}`
    ctx.fillText("f", 0, 0)
    ctx.font = `66px ${serif}`
    ctx.fillText("(kHz)", 37, 0)
    ctx.restore()
  },
}

// the chart title gets squeezed to the width of the bar, this one does not
const unitLabel = {
  id: "unitLabel",
  afterDraw(chart: any) {
    const { ctx, chartArea: a } = chart
    ctx.save()
    ctx.fillStyle = "#000"
    ctx.font = `66px ${serif}`
    ctx.textAlign = "center"
    ctx.textBaseline = "alphabetic"
    ctx.fillText("(dB)", (a.left + a.right) / 2 - 2, 95)
    ctx.restore()
  },
}

interface HeatmapProps {
  title: string
  left: number
  thetas: number[]
  freqs: number[]
  rows: number[][]
}

function Heatmap({ title, left, thetas, freqs, rows }: HeatmapProps) {
  const chartRef = useRef<HTMLCanvasElement>(null)

  useEffect(() => {
    if (!chartRef.current) return
    const edges = thetas.map((t, j) => (j === 0 ? -90.5 : (thetas[j - 1] + t) / 2))
    edges.push(90.5)
    const data: any[] = []
    const colors: string[] = []
    rows.forEach((row, r) => {
      row.forEach((db, j) => {
        data.push({ y: freqs[r], x: [edges[j], edges[j + 1]] })
        colors.push(jet(db))
      })
    })

    const chart = new Chart(chartRef.current, {
      type: "bar",
      data: {
        datasets: [
          {
            data,
            backgroundColor: colors,
            borderWidth: 0,
            barPercentage: 1,
            categoryPercentage: 1,
          },
        ],
      },
      options: {
        indexAxis: "y",
        animation: false,
        responsive: false,
        devicePixelRatio: 1,
        events: [],
        layout: { padding: { right: 12 } },
        plugins: {
          legend: { display: false },
          tooltip: { enabled: false },
          title: {
            display: true,
            text: title,
            fullSize: false,
            color: "#000",
            font: { family: serif, size: 66, weight: "normal", lineHeight: 1.2 },
            padding: { top: 24, bottom: 5 },
          },
        },
        scales: {
          x: {
            type: "linear",
            min: -90.5,
            max: 90.5,
            grid: { display: false },
            border: { display: false },
            afterBuildTicks: setTicks(thetaTicks),
            afterFit: (s: any) => {
              s.height = 161
            },
            ticks: {
              color: ink,
              padding: 22,
              maxRotation: 0,
              autoSkip: false,
              font: { family: sans, size: 40 },
              callback: (v: any) => String(v),
            },
          },
          y: {
            type: "linear",
            min: -0.053,
            max: 8.053,
            offset: false,
            grid: { display: false },
            border: { display: false },
            afterBuildTicks: setTicks(freqTicks),
            afterFit: (s: any) => {
              s.width = 150
            },
            ticks: {
              color: ink,
              padding: 20,
              labelOffset: 4,
              autoSkip: false,
              font: { family: sans, size: 40 },
              callback: (v: any) => String(v),
            },
          },
        },
      },
      plugins: [frame(true), axisTitles],
    } as any)

    return () => chart.destroy()
  }, [title, thetas, freqs, rows])

  return (
    <canvas
      ref={chartRef}
      width={1340}
      height={1326}
      style={{ position: "absolute", left, top: 0, width: 1340, height: 1326 }}
    />
  )
}

function ColorBar({ left }: { left: number }) {
  const chartRef = useRef<HTMLCanvasElement>(null)

  useEffect(() => {
    if (!chartRef.current) return
    const chart = new Chart(chartRef.current, {
      type: "bar",
      data: {
        datasets: [
          {
            data: colorLevels.map((y) => ({ y, x: [0, 1] })),
            backgroundColor: colorLevels.map(jet),
            borderWidth: 0,
            barPercentage: 1,
            categoryPercentage: 1,
          },
        ],
      },
      options: {
        indexAxis: "y",
        animation: false,
        responsive: false,
        devicePixelRatio: 1,
        events: [],
        layout: { padding: { left: 26, top: 108, bottom: 161 } },
        plugins: {
          legend: { display: false },
          tooltip: { enabled: false },
          title: { display: false },
        },
        scales: {
          x: { type: "linear", min: 0, max: 1, display: false },
          y: {
            type: "linear",
            position: "right",
            min: -40,
            max: 0,
            offset: false,
            grid: { display: false },
            border: { display: false },
            afterBuildTicks: setTicks(dbTicks),
            afterFit: (s: any) => {
              s.width = 108
            },
            ticks: {
              color: ink,
              padding: 16,
              labelOffset: 4,
              autoSkip: false,
              font: { family: sans, size: 40 },
              callback: (v: any) => String(v),
            },
          },
        },
      },
      plugins: [frame(false), unitLabel],
    } as any)

    return () => chart.destroy()
  }, [])

  return (
    <canvas
      ref={chartRef}
      width={220}
      height={1326}
      style={{ position: "absolute", left, top: 0, width: 220, height: 1326 }}
    />
  )
}

export default function App() {
  return (
    <div style={{ position: "absolute", left: 0, top: 0, width: 3200, height: 1326, background: "#fff", overflow: "hidden" }}>
      <Heatmap title="(a)" left={0} thetas={thetaA} freqs={freqA} rows={rowsA} />
      <ColorBar left={1340} />
      <Heatmap title="(b)" left={1634} thetas={thetaB} freqs={freqB} rows={rowsB} />
      <ColorBar left={2975} />
    </div>
  )
}
